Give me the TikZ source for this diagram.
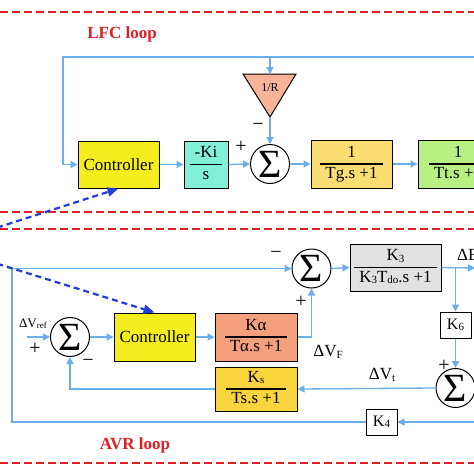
\documentclass[tikz,border=0pt]{standalone}
\usepackage{fontspec}
\setmainfont{Liberation Serif}
\usetikzlibrary{arrows.meta}
\definecolor{lb}{RGB}{105,175,235}
\definecolor{rd}{RGB}{225,30,35}
\definecolor{db}{RGB}{35,60,220}
\definecolor{cyel}{RGB}{245,238,30}
\definecolor{caq}{RGB}{130,240,215}
\definecolor{csal}{RGB}{248,180,155}
\definecolor{cgold}{RGB}{250,222,115}
\definecolor{cgrn}{RGB}{185,240,130}
\definecolor{cor}{RGB}{244,160,125}
\definecolor{cks}{RGB}{250,212,60}
\definecolor{cgr}{RGB}{225,225,225}
\setlength{\arrayrulewidth}{1.3pt}
\newcommand\sbx[1]{\raisebox{-1.5pt}{\fontsize{11}{12}\selectfont #1}}
\newcommand\frc[2]{\begin{tabular}{@{\hspace{5pt}}c@{\hspace{5pt}}}#1\\\hline #2\end{tabular}}
\tikzset{
  blk/.style={draw=black, line width=1pt, inner sep=0pt, font=\fontsize{17}{20}\selectfont},
  sm/.style={draw=black, line width=1pt, circle, minimum size=39pt, inner sep=0pt, fill=white},
  sig/.style={inner sep=0pt, font=\fontsize{40}{40}\selectfont},
  wire/.style={lb, line width=1.3pt},
  arr/.style={wire, -{Triangle[length=7pt,width=7pt]}},
  reddash/.style={rd, line width=2.2pt, dash pattern=on 8pt off 4pt},
  ctl/.style={db, line width=2.2pt, dash pattern=on 6pt off 4pt, -{Triangle[length=11pt,width=9pt]}},
  lbl/.style={inner sep=0pt, font=\fontsize{17}{20}\selectfont},
  sgn/.style={inner sep=0pt, font=\fontsize{20}{20}\selectfont},
  ttl/.style={inner sep=0pt, text=rd, font=\fontsize{17}{20}\selectfont\bfseries}
}
\begin{document}
\begin{tikzpicture}[x=1pt,y=-1pt]
\useasboundingbox (0,0) rectangle (474,474);
\clip (0,0) rectangle (474,474);
\fill[white] (0,0) rectangle (474,474);
% red separators
\draw[reddash] (0,12) -- (474,12);
\draw[reddash] (0,212) -- (474,212);
\draw[reddash] (0,229) -- (474,229);
\draw[reddash] (0,463) -- (474,463);
\node[ttl] (lfct) at (122,34) {LFC loop};
\node[ttl] (avrt) at (135,445) {AVR loop};
% ---------- LFC loop ----------
\node[blk, fill=cyel, minimum width=81, minimum height=47] (c1) at (118.5,164.5) {Controller};
\node[blk, fill=caq, minimum width=44, minimum height=47] (ki) at (206,164.5) {\frc{-Ki}{s}};
\node[sm] (s1) at (270,164) {};
\node[sig] (s1g) at (s1) {Σ};
\draw[fill=csal, line width=1pt] (243,74) -- (296,74) -- (270,117) -- cycle;
\coordinate (rtop) at (270,74);
\coordinate (rapex) at (270,117);
\node[inner sep=0pt, font=\fontsize{12}{14}\selectfont] (rtxt) at (270,88) {1/R};
\node[blk, fill=cgold, minimum width=81, minimum height=48] (tg) at (351.5,164) {\frc{1}{Tg.s +1}};
\node[blk, fill=cgrn, minimum width=80, minimum height=48] (tt) at (458,164) {\frc{1}{Tt.s +1}};
\coordinate (lfcin) at (476,57);
\coordinate (fbL) at (63,57);
\draw[arr] (lfcin) -- (fbL) |- (c1.west);
\draw[arr] (rtop |- fbL) -- (rtop);
\draw[arr] (rapex) -- (s1.north);
\draw[arr] (c1.east) -- (ki.west);
\draw[arr] (ki.east) -- (s1.west);
\draw[arr] (s1.east) -- (tg.west);
\draw[arr] (tg.east) -- (tt.west);
\node[sgn] (p1) at (241,147) {+};
\node[sgn] (m1) at (258,127) {−};
% ---------- AVR loop ----------
\node[sm] (sa) at (70,337) {};
\node[sig] (sag) at (sa) {Σ};
\node[blk, fill=cyel, minimum width=81, minimum height=48] (c2) at (154.5,337) {Controller};
\node[blk, fill=cor, minimum width=82, minimum height=48] (ka) at (256,337) {\frc{Kα}{Tα.s +1}};
\node[blk, fill=cks, minimum width=82, minimum height=44] (ks) at (256,389) {\frc{K\sbx{s}}{Ts.s +1}};
\node[sm] (s2) at (311.5,268.5) {};
\node[sig] (s2g) at (s2) {Σ};
\node[blk, fill=cgr, minimum width=91, minimum height=47] (k3) at (395.5,267.5) {\frc{K\sbx{3}}{K\sbx{3}T\sbx{do}.s +1}};
\node[blk, fill=white, minimum width=31, minimum height=26, font=\fontsize{16}{18}\selectfont] (k6) at (455.5,325) {K\sbx{6}};
\node[sm] (s3) at (455.5,388) {};
\node[sig] (s3g) at (s3) {Σ};
\node[blk, fill=white, minimum width=31, minimum height=26, font=\fontsize{16}{18}\selectfont] (k4) at (381.5,422) {K\sbx{4}};
\coordinate (vin) at (27,337);
\draw[arr] (vin) -- (sa.west);
\draw[arr] (sa.east) -- (c2.west);
\draw[arr] (c2.east) -- (ka.west);
\draw[arr] (ka.east) -| (s2.south);
\draw[arr] (s2.east) -- (k3.west);
\coordinate (eout) at (475,268);
\draw[arr] (k3.east) -- (eout);
\draw[arr] (k6.north |- k3.east) -- (k6.north);
\draw[arr] (k6.south) -- (s3.north);
\draw[arr] (s3.west) -- (ks.east);
\draw[arr] (ks.west) -| (sa.south);
\coordinate (k4in) at (478,422);
\draw[arr] (k4in) -- (k4.east);
\coordinate (avrL) at (12,422);
\draw[arr] (k4.west) -- (avrL) |- (s2.west);
% labels
\node[inner sep=0pt, font=\fontsize{13}{15}\selectfont] (vref) at (33,324) {ΔV\raisebox{-1pt}{\fontsize{9}{10}\selectfont ref}};
\node[lbl] (vf) at (328,352) {ΔV\sbx{F}};
\node[lbl] (vt) at (382,375) {ΔV\sbx{t}};
\node[lbl, anchor=west] (eq) at (457,257) {ΔE\sbx{q}};
\node[sgn] (p2) at (35,349) {+};
\node[sgn] (m2) at (88,363) {−};
\node[sgn] (m3) at (276,255) {−};
\node[sgn] (p3) at (301,302) {+};
\node[sgn] (p4) at (444,366) {+};
% controller signals
\coordinate (cs) at (-60,246);
\draw[ctl] (cs) -- (c1.south);
\draw[ctl] (cs) -- (c2.north);
\end{tikzpicture}
\end{document}
